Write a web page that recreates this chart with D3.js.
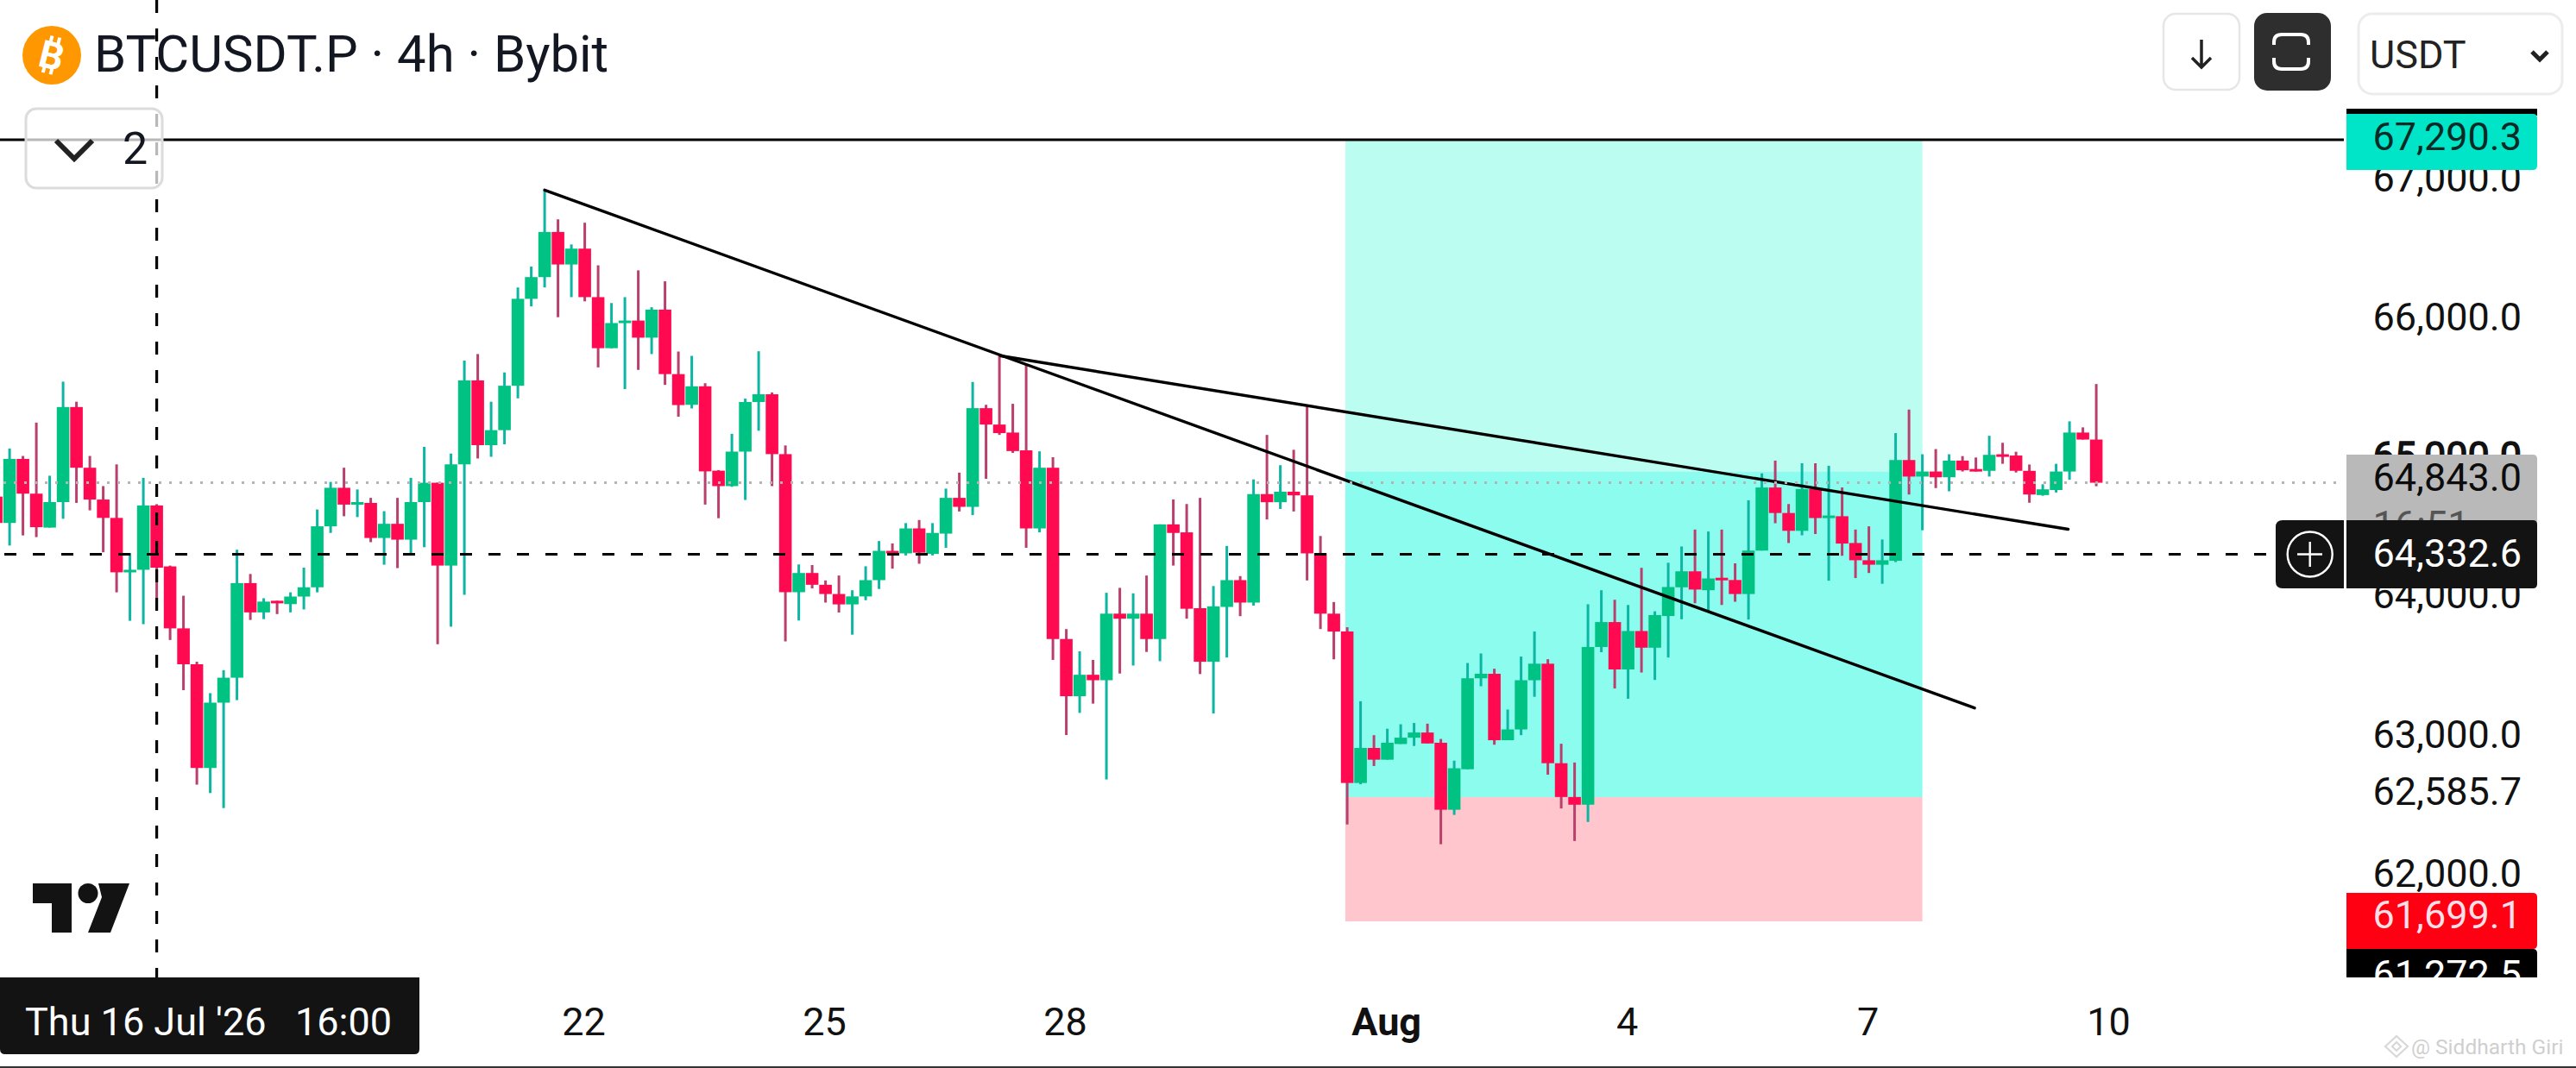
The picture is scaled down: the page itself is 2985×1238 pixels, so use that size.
<!DOCTYPE html>
<html><head><meta charset="utf-8">
<script src="https://cdn.jsdelivr.net/npm/d3@7/dist/d3.min.js"></script>
<style>html,body{margin:0;padding:0;background:#fff;overflow:hidden}svg{display:block}text{font-family:Roboto,sans-serif}</style>
</head><body>
<script>
// ---------- data ----------
const symbolTitle = "BTCUSDT.P · 4h · Bybit";
const firstBar = "2026-07-14T16:00:00Z";   // bars are 4h apart
const crosshairTime = "2026-07-16T16:00:00Z";
const crosshairTimeLabel = "Thu 16 Jul '26   16:00";
const timeTicks = ["2026-07-22","2026-07-25","2026-07-28","2026-08-01","2026-08-04","2026-08-07","2026-08-10"];
const timeTickLabels = ["22","25","28","Aug","4","7","10"];
const priceTicks = [67000,66000,65000,64000,63000,62000];

const opens = [64744,64556,65013,64765,64523,64705,65383,64950,64723,64592,64204,64222,64681,64246,63804,63548,62808,63274,63452,64127,63918,64001,63977,64031,64097,64532,64807,64690,64699,64449,64550,64437,64705,64843,64252,64974,65573,65111,65218,65535,66155,66310,66632,66400,66513,66167,65803,65982,66000,65878,66078,65618,
65399,65531,64929,64819,65065,65419,65474,65047,64062,64199,64115,64049,63975,64032,64148,64357,64339,64517,64335,64480,64735,64671,65375,65258,65201,65074,64517,64950,63728,63320,63473,63434,63909,63873,63909,63728,64546,64489,63948,63566,63957,64148,63988,64762,64704,64779,64753,64339,63909,
63782,62701,62951,62867,62979,63024,63061,62988,62510,62799,63448,63480,63006,63083,63434,63552,62842,62601,62546,63671,63849,63511,63785,63666,63892,64097,64211,64076,64165,64149,64049,64359,64809,64627,64500,64798,64595,64604,64413,64290,64258,64286,65005,64887,64923,64882,65001,64941,64928,65046,65037,64928,64755,64791,64923,65201,65151];
const highs = [64760,65087,65034,65272,64893,65564,65421,65034,64819,64974,64341,64878,64690,64252,64037,63566,63342,63506,64365,64192,64019,64001,64061,64237,64652,64849,64950,64795,64735,64640,64735,64878,65099,64843,65051,65714,65761,65421,65630,66236,66385,66931,66722,66543,66698,66394,66125,66167,66358,66095,66280,65779,
65748,65553,64933,65192,65443,65781,65487,65109,64260,64256,64146,64181,64076,64247,64427,64410,64555,64577,64555,64801,64915,65562,65399,65753,65406,65693,65067,65025,63799,63640,63579,64058,64093,64054,64181,64546,64724,64691,64735,64106,64392,64177,64867,65184,64968,65078,65390,64463,63992,
63812,63284,63042,63088,63120,63129,63124,63015,62860,63557,63625,63516,63225,63603,63782,63584,62981,62847,63976,64076,64008,63971,64236,63926,64272,64388,64509,64495,64509,64268,64718,64910,65001,64691,64982,64982,64964,64809,64509,64532,64438,65197,65365,65046,65083,65046,65033,65023,65178,65128,65064,64973,64832,64978,65281,65238,65547];
const lows = [64540,64395,64467,64455,64523,64586,64699,64646,64347,64061,63858,63834,64019,63721,63363,62689,62629,62522,63292,63864,63870,63906,63918,63939,64061,64485,64604,64598,64419,64258,64234,64324,64383,63691,63816,64043,65016,65028,65117,65445,66101,66236,66024,66167,66137,65666,65803,65511,65648,65761,65541,65314,
65373,64687,64590,64814,64720,65214,64819,63711,63860,64089,63988,63917,63759,64005,64085,64230,64324,64265,64324,64379,64638,64612,64871,65184,65056,64379,64489,63579,63043,63201,63267,62726,63482,63539,63636,63570,64252,63873,63478,63197,63596,63891,63966,64581,64656,64638,64146,63799,63583,
62405,62692,62822,62867,62979,62965,62983,62264,62473,62799,63391,62974,63006,63042,63316,62760,62519,62287,62423,63634,63375,63302,63489,63436,63596,63869,63983,63930,63971,63994,63867,64359,64554,64413,64468,64477,64144,64322,64163,64199,64122,64277,64759,64504,64805,64782,64923,64923,64887,64978,64916,64700,64750,64773,64864,65151,64818];
const closes = [64556,65013,64765,64526,64705,65383,64950,64723,64592,64204,64222,64681,64237,63804,63548,62808,63274,63452,64127,63918,63995,63989,64031,64097,64532,64807,64687,64705,64449,64550,64437,64705,64843,64252,64974,65573,65111,65218,65535,66155,66310,66632,66400,66513,66167,65803,65982,66000,65878,66078,65618,65397,
65531,64924,64819,65065,65419,65474,65047,64062,64199,64115,64049,63975,64032,64148,64357,64339,64517,64344,64485,64735,64671,65375,65258,65197,65069,64517,64950,63728,63320,63473,63434,63909,63873,63909,63728,64546,64485,63944,63566,63961,64148,63988,64762,64704,64779,64753,64339,63909,63781,
62701,62951,62867,62988,63024,63061,62983,62510,62806,63448,63480,63006,63083,63434,63552,62842,62601,62546,63671,63849,63511,63785,63666,63899,64099,64211,64081,64160,64154,64049,64359,64809,64627,64500,64798,64591,64609,64409,64290,64258,64290,65005,64887,64923,64882,65001,64932,64928,65042,65037,64928,64759,64796,64923,65201,65151,64843];

const lastPrice = 64843.0, lastPriceLabel = "64,843.0", countdown = "16:51";
const crosshairPrice = 64332.6, crosshairPriceLabel = "64,332.6";
const targetPrice = 67290.3, targetLabel = "67,290.3";
const entryLabelPrice = 62585.7, entryLabel = "62,585.7";
const stopLabelPrice = 61699.1, stopLabel = "61,699.1";
const lowerLabelPrice = 61272.5, lowerLabel = "61,272.5";
const zoneBandPrice = 64923, zoneEntryPrice = 62600, zoneStopPrice = 61714;
const zoneStartBar = 100.86, zoneEndBar = 144.0;
const trendBars = [[41,147.9],[75.1,154.9]];
const trendPrices = [[66931,63236],[65748,64511]];

// ---------- scales ----------
const W=2985,H=1238, H4=4*3600*1000;
const barDate=i=>new Date(+new Date(firstBar)+i*H4);
const x=d3.scaleUtc().domain([new Date(crosshairTime),new Date("2026-08-10")]).range([181.6,2444.6]);
const y=d3.scaleLinear().domain([crosshairPrice,61699.1]).range([642.5,1070.4]);
const axisY=d3.scaleLinear().domain([66000,62000]).range([366.5,1011.5]);

const svg=d3.select("body").append("svg").attr("width",W).attr("height",H).attr("viewBox",`0 0 ${W} ${H}`);
const INK="#131722";
svg.append("rect").attr("width",W).attr("height",H).attr("fill","#fff");
const defs=svg.append("defs");
defs.append("clipPath").attr("id","paneClip").append("rect").attr("x",0).attr("y",0).attr("width",2716).attr("height",1133);
defs.append("clipPath").attr("id","scaleClip").append("rect").attr("x",2700).attr("y",110).attr("width",285).attr("height",1023);

// ---------- position tool zones ----------
const zoneX0=x(barDate(zoneStartBar)), zoneX1=x(barDate(zoneEndBar));
const zones=[[targetPrice,zoneBandPrice,"#bcfdf2"],[zoneBandPrice,zoneEntryPrice,"#8cfcef"],[zoneEntryPrice,zoneStopPrice,"#ffc7cd"]];
svg.append("g").selectAll("rect").data(zones).join("rect")
 .attr("x",zoneX0).attr("width",zoneX1-zoneX0)
 .attr("y",d=>y(d[0])).attr("height",d=>y(d[1])-y(d[0])).attr("fill",d=>d[2]);

// ---------- candles ----------
const UP="#00c283",DOWN="#ff0a50",UPW="#0db5a3",DOWNW="#b93f6d";
const bars=d3.range(opens.length).map(i=>({t:barDate(i),o:opens[i],h:highs[i],l:lows[i],c:closes[i]}));
const candles=svg.append("g").attr("clip-path","url(#paneClip)");
candles.selectAll("line").data(bars).join("line")
 .attr("x1",d=>x(d.t)).attr("x2",d=>x(d.t)).attr("y1",d=>y(d.h)).attr("y2",d=>y(d.l))
 .attr("stroke",d=>d.c>=d.o?UPW:DOWNW).attr("stroke-width",3);
candles.selectAll("rect").data(bars).join("rect")
 .attr("x",d=>x(d.t)-7.3).attr("width",14.6)
 .attr("y",d=>y(Math.max(d.o,d.c)))
 .attr("height",d=>Math.max(3,Math.abs(y(d.o)-y(d.c))))
 .attr("fill",d=>d.c>=d.o?UP:DOWN);

// ---------- trend lines ----------
svg.append("g").selectAll("line").data(trendBars).join("line")
 .attr("x1",d=>x(barDate(d[0]))).attr("x2",d=>x(barDate(d[1])))
 .attr("y1",(d,i)=>y(trendPrices[i][0])).attr("y2",(d,i)=>y(trendPrices[i][1]))
 .attr("stroke","#000").attr("stroke-width",3.4).attr("stroke-linecap","round");

// ---------- price lines and crosshair ----------
svg.append("line").attr("x1",4).attr("x2",2712).attr("y1",y(lastPrice)).attr("y2",y(lastPrice))
 .attr("stroke","#b4b4b4").attr("stroke-width",3).attr("stroke-dasharray","3 9");
svg.append("line").attr("x1",0).attr("x2",2716).attr("y1",y(targetPrice)).attr("y2",y(targetPrice))
 .attr("stroke","#000").attr("stroke-width",3);
svg.append("line").attr("x1",5).attr("x2",2640).attr("y1",y(crosshairPrice)).attr("y2",y(crosshairPrice))
 .attr("stroke","#000").attr("stroke-width",3.2).attr("stroke-dasharray","14 19");
svg.append("line").attr("x1",x(new Date(crosshairTime))).attr("x2",x(new Date(crosshairTime))).attr("y1",0).attr("y2",1133)
 .attr("stroke","#000").attr("stroke-width",3.2).attr("stroke-dasharray","15 18");

// ---------- price axis ----------
const LABEL=45, LX=2749.5;
const axisG=svg.append("g").attr("clip-path","url(#scaleClip)");
const yAxis=d3.axisRight(axisY).tickValues(priceTicks).tickSize(0).tickFormat(d3.format(",.1f"));
const axisLayer=axisG.append("g").attr("transform",`translate(${LX},0)`).call(yAxis);
axisLayer.select(".domain").remove();
axisLayer.selectAll("text").attr("x",0).attr("dy",".355em").attr("text-anchor","start")
 .style("font-family","Roboto,sans-serif").style("font-size",LABEL+"px").attr("fill","#111")
 .attr("stroke",d=>d===65000?"#111":"none").attr("stroke-width",1.4);

const pill=(yy0,yy1,fill)=>axisG.append("path")
 .attr("d",`M2719 ${yy0}H2935Q2940 ${yy0} 2940 ${yy0+5}V${yy1-5}Q2940 ${yy1} 2935 ${yy1}H2719Z`).attr("fill",fill);
const pillText=(p,t,fill)=>axisG.append("text").attr("x",LX).attr("y",axisY(p)).attr("dy",".355em")
 .attr("font-size",LABEL).attr("fill",fill).text(t);

axisG.append("rect").attr("x",2719).attr("y",126).attr("width",221).attr("height",8).attr("fill","#000");
pill(132,197,"#00e5c7"); pillText(targetPrice,targetLabel,"#0a2a26");
pill(527,612,"#b9b9b9"); pillText(lastPrice,lastPriceLabel,"#0c0c0c");
axisG.append("text").attr("x",LX).attr("y",624).attr("font-size",LABEL).attr("fill","#555").text(countdown);
pill(603,682,"#131313");
axisG.append("text").attr("x",LX).attr("y",641).attr("dy",".355em").attr("font-size",LABEL).attr("fill","#fff").text(crosshairPriceLabel);
pillText(entryLabelPrice,entryLabel,"#111");
pill(1100,1150,"#000"); pillText(lowerLabelPrice,lowerLabel,"#fff");
pill(1035,1100,"#ff0012"); pillText(stopLabelPrice,stopLabel,"#fbdfe6");

// plus button
svg.append("path").attr("d","M2716 603H2645Q2637 603 2637 611V674Q2637 682 2645 682H2716Z").attr("fill","#131313");
svg.append("circle").attr("cx",2676.7).attr("cy",642.5).attr("r",26).attr("fill","none").attr("stroke","#fff").attr("stroke-width",2.4);
svg.append("path").attr("d","M2662 642.5H2691M2676.7 628V657").attr("stroke","#fff").attr("stroke-width",2.4);

// ---------- time axis ----------
const timeDates=timeTicks.map(d=>new Date(d+"T00:00:00Z"));
const xAxis=d3.axisBottom(x).tickValues(timeDates).tickSize(0).tickFormat((d,i)=>timeTickLabels[i]);
const xLayer=svg.append("g").attr("transform","translate(-1.5,1184.5)").call(xAxis);
xLayer.select(".domain").remove();
xLayer.selectAll("text").attr("y",0).attr("dy",".355em").style("font-family","Roboto,sans-serif").style("font-size",LABEL+"px")
 .attr("fill","#111").attr("font-weight",(d,i)=>timeTickLabels[i]==="Aug"?700:400);

svg.append("path").attr("d","M0 1133H486V1216Q486 1222 480 1222H6Q0 1222 0 1216Z").attr("fill","#131313");
svg.append("text").attr("x",29).attr("y",1184).attr("dy",".355em").attr("font-size",LABEL).attr("fill","#fff")
 .style("white-space","pre").text(crosshairTimeLabel);
svg.append("line").attr("x1",0).attr("x2",W).attr("y1",1237).attr("y2",1237).attr("stroke","#333").attr("stroke-width",2);

// ---------- header ----------
svg.append("circle").attr("cx",60).attr("cy",64).attr("r",34).attr("fill","#ff9800");
const bt=svg.append("g").attr("transform","translate(60,64) rotate(14)");
bt.append("text").attr("text-anchor","middle").attr("dy",".36em").attr("font-size",44).attr("font-weight",700).attr("fill","#fff").text("B");
bt.append("path").attr("d","M-5 -22V-14M4 -22V-14M-5 14V22M4 14V22").attr("stroke","#fff").attr("stroke-width",4);
svg.append("text").attr("x",109).attr("y",83).attr("font-size",59.8).attr("fill",INK).text(symbolTitle);

// legend button
svg.append("rect").attr("x",30).attr("y",126).attr("width",158).attr("height",92).attr("rx",12)
 .attr("fill","#fff").attr("fill-opacity",.72).attr("stroke","#dcdcdc").attr("stroke-width",3);
svg.append("path").attr("d","M65 163L86 184L107 163").attr("fill","none").attr("stroke","#222").attr("stroke-width",6);
svg.append("text").attr("x",142).attr("y",190).attr("font-size",52).attr("fill",INK).text("2");

// top-right buttons
svg.append("rect").attr("x",2507).attr("y",16).attr("width",88).attr("height",88).attr("rx",14).attr("fill","#fff").attr("stroke","#e6e6e6").attr("stroke-width",2.5);
svg.append("path").attr("d","M2551 46V78M2540 67L2551 78L2562 67").attr("fill","none").attr("stroke","#222").attr("stroke-width",3.5);
svg.append("rect").attr("x",2612).attr("y",15).attr("width",89).attr("height",90).attr("rx",15).attr("fill","#2e2e2e");
svg.append("path").attr("d","M2635 52V49Q2635 40 2644 40H2666Q2675 40 2675 49V52M2635 67V71Q2635 80 2644 80H2666Q2675 80 2675 71V67")
 .attr("fill","none").attr("stroke","#fff").attr("stroke-width",4);
svg.append("rect").attr("x",2733).attr("y",16).attr("width",236).attr("height",93).attr("rx",16).attr("fill","#fff").attr("stroke","#ececec").attr("stroke-width",3);
svg.append("text").attr("x",2746).attr("y",79).attr("font-size",45).attr("fill","#222").text("USDT");
svg.append("path").attr("d","M2934 60L2943 69L2952 60").attr("fill","none").attr("stroke","#222").attr("stroke-width",5);

// TradingView mark
svg.append("path").attr("d","M38 1024H83V1081H60V1047H38Z").attr("fill","#131313");
svg.append("circle").attr("cx",102).attr("cy",1035.5).attr("r",11.5).attr("fill","#131313");
svg.append("path").attr("d","M114 1024H150L128 1081H102L118 1040Z").attr("fill","#131313");

// watermark
svg.append("path").attr("d","M2777 1201L2790 1213L2777 1225L2764 1213Z M2777 1208L2782 1213L2777 1218L2772 1213Z")
 .attr("fill","none").attr("stroke","#d8d8d8").attr("stroke-width",2.2);
svg.append("text").attr("x",2794).attr("y",1222).attr("font-size",24.5).attr("fill","#cfcfcf").text("@ Siddharth Giri");
</script>
</body></html>
